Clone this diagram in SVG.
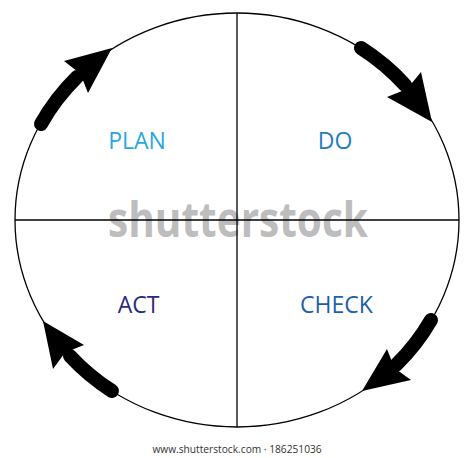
<svg xmlns="http://www.w3.org/2000/svg" width="474" height="458" viewBox="0 0 474 458">
  <style>
    .frame { fill: none; stroke: #000; stroke-width: 1.3; }
    .label { font-family: "Open Sans", "Liberation Sans", sans-serif; font-size: 23px; text-anchor: middle; }
    .shaft { fill: none; stroke: #000; stroke-width: 14; stroke-linecap: round; }
    .head { fill: #000; }
    .wm { font-family: "Open Sans", "Liberation Sans", sans-serif; font-weight: bold; font-size: 48px; fill: #bdbdbd; text-anchor: middle; }
    .credit { font-family: "Open Sans", "Liberation Sans", sans-serif; font-size: 10.2px; fill: #333; text-anchor: middle; }
  </style>
  <rect width="474" height="458" fill="#fff"/>
  <text class="wm" x="238" y="237" textLength="260" lengthAdjust="spacingAndGlyphs">shutterstock</text>
  <g id="frame">
    <ellipse class="frame" cx="237" cy="220" rx="222" ry="207"/>
    <line class="frame" x1="237" y1="13" x2="237" y2="427"/>
    <line class="frame" x1="15" y1="220" x2="459" y2="220"/>
  </g>
  <g id="plan"><text class="label" x="137" y="149" fill="#29a8e0">PLAN</text></g>
  <g id="do"><text class="label" x="335" y="149" fill="#1f7fc0">DO</text></g>
  <g id="act"><text class="label" x="138.5" y="313" fill="#2b2a7d">ACT</text></g>
  <g id="check"><text class="label" x="336.5" y="313" fill="#1c5fa6">CHECK</text></g>
  <g id="connectors">
    <path class="shaft" d="M 41 124 A 222 207 0 0 1 77 77"/>
    <polygon class="head" points="112,48 64,61 80.4,73.8 88,93"/>
    <path class="shaft" d="M 361 48 A 222 207 0 0 1 405 85"/>
    <polygon class="head" points="432,122 421,72 407,89 387,97"/>
    <path class="shaft" d="M 431 320 A 222 207 0 0 1 396 365"/>
    <polygon class="head" points="362,391 387,349 394.4,367.9 411,380"/>
    <path class="shaft" d="M 112 391 A 222 207 0 0 1 70 356"/>
    <polygon class="head" points="43,321 84,345 65.1,352.4 53,369"/>
  </g>
  <text class="credit" x="237" y="453">www.shutterstock.com · 186251036</text>
</svg>
